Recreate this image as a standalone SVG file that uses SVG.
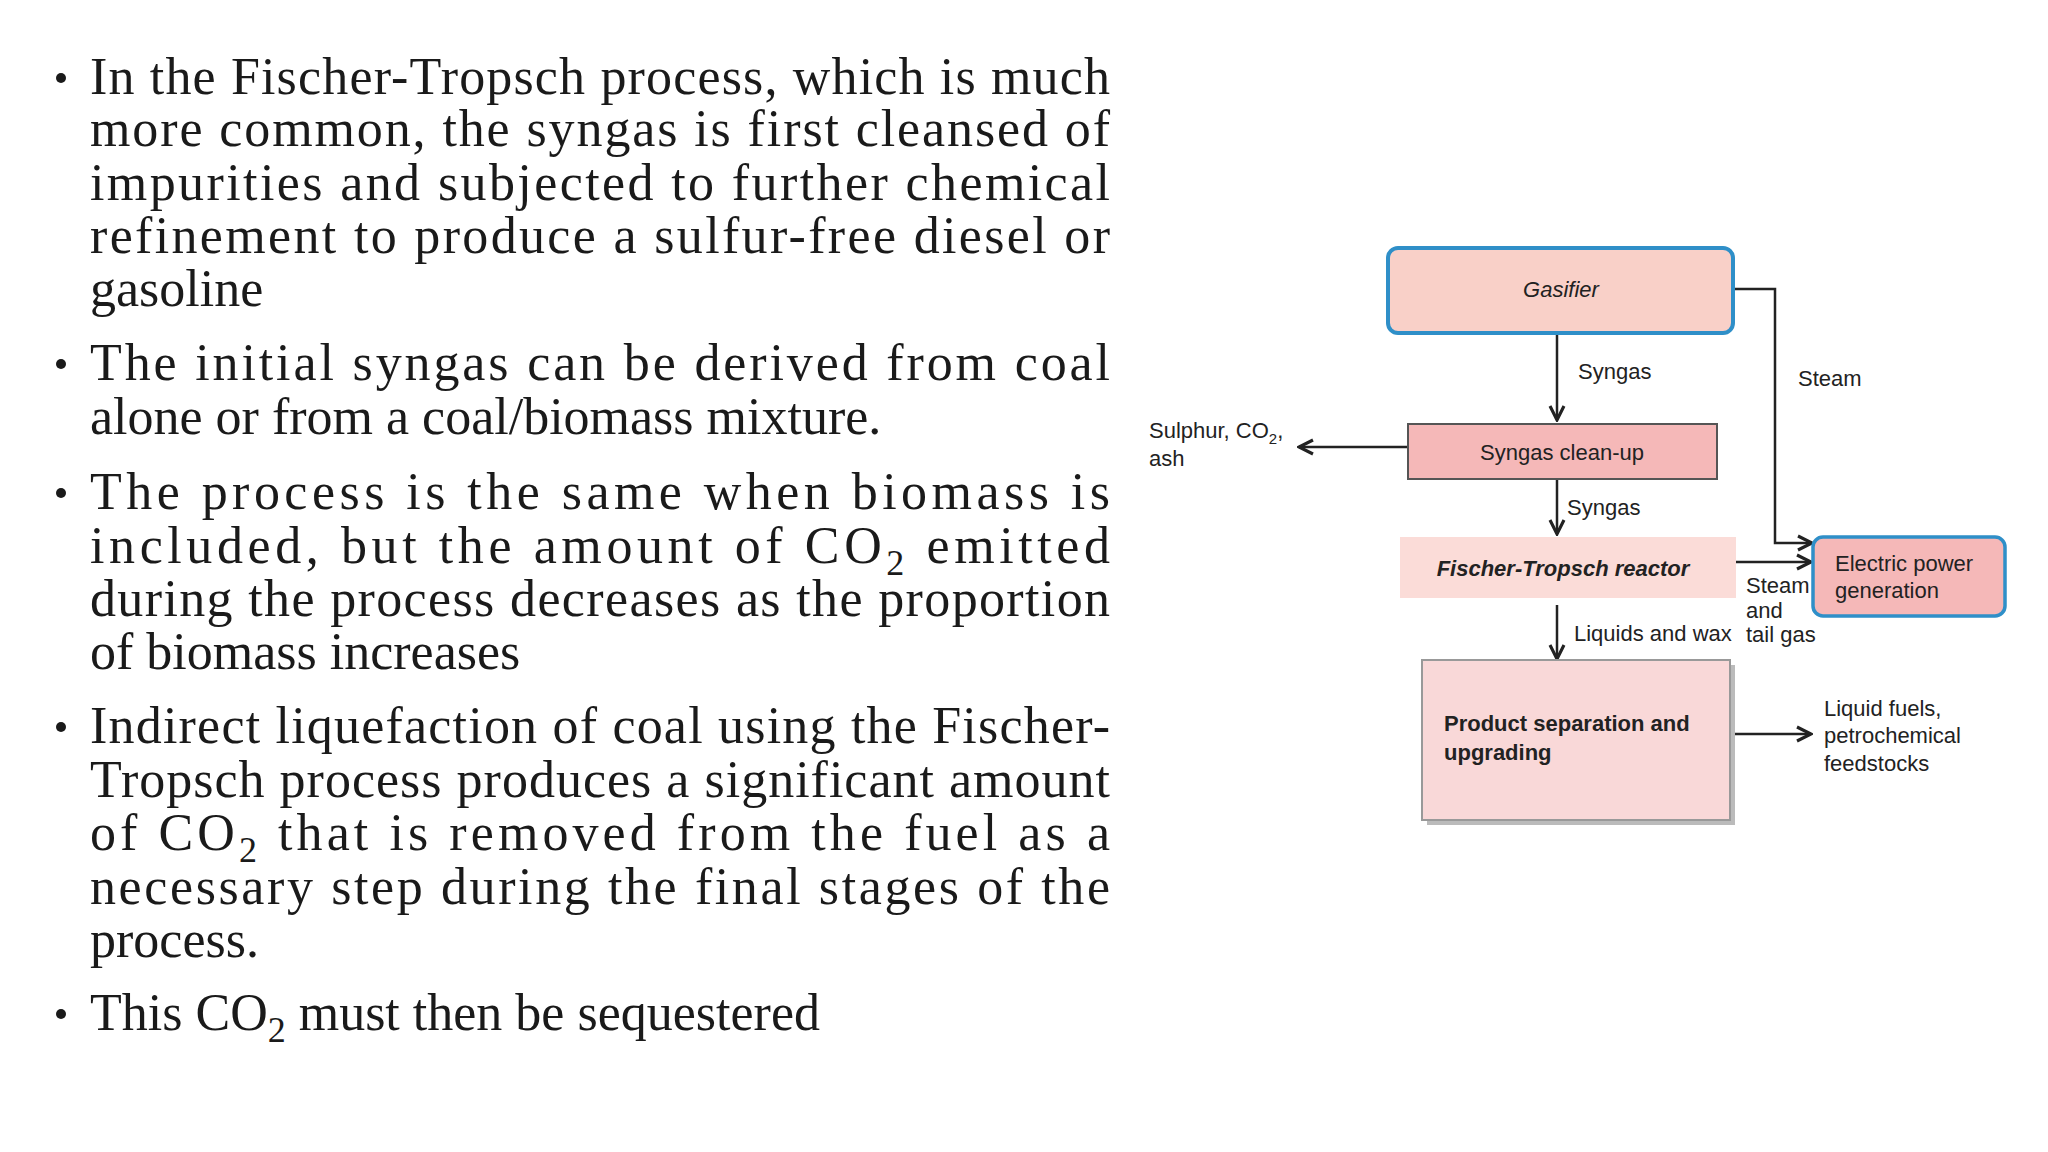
<svg xmlns="http://www.w3.org/2000/svg" width="2048" height="1152" viewBox="0 0 2048 1152">
<style>
.b{font-family:"Liberation Serif",serif;font-size:52px;fill:#1a1a1a}
.d{font-family:"Liberation Sans",Arial,sans-serif;font-size:22px;fill:#222}
.ln{stroke:#222;stroke-width:2.5;fill:none}
</style>
<defs>
<marker id="ah" viewBox="0 0 10 10" refX="9" refY="5" markerWidth="7" markerHeight="7" orient="auto"><path d="M1,1 L9,5 L1,9" fill="none" stroke="#222" stroke-width="1.8"/></marker>
</defs>
<rect width="2048" height="1152" fill="#fff"/>
<g id="text">
<circle cx="61" cy="78" r="5" fill="#1a1a1a"/>
<text class="b" x="90" y="94" textLength="1020" lengthAdjust="spacing">In the Fischer-Tropsch process, which is much</text>
<text class="b" x="90" y="146" textLength="1020" lengthAdjust="spacing">more common, the syngas is first cleansed of</text>
<text class="b" x="90" y="200" textLength="1020" lengthAdjust="spacing">impurities and subjected to further chemical</text>
<text class="b" x="90" y="253" textLength="1020" lengthAdjust="spacing">refinement to produce a sulfur-free diesel or</text>
<text class="b" x="90" y="306">gasoline</text>
<circle cx="61" cy="364" r="5" fill="#1a1a1a"/>
<text class="b" x="90" y="380" textLength="1020" lengthAdjust="spacing">The initial syngas can be derived from coal</text>
<text class="b" x="90" y="434">alone or from a coal/biomass mixture.</text>
<circle cx="61" cy="493" r="5" fill="#1a1a1a"/>
<text class="b" x="90" y="509" textLength="1020" lengthAdjust="spacing">The process is the same when biomass is</text>
<text class="b" x="90" y="563" textLength="1020" lengthAdjust="spacing">included, but the amount of CO<tspan dy="12" font-size="36">2</tspan><tspan dy="-12"> emitted</tspan></text>
<text class="b" x="90" y="616" textLength="1020" lengthAdjust="spacing">during the process decreases as the proportion</text>
<text class="b" x="90" y="669">of biomass increases</text>
<circle cx="61" cy="727" r="5" fill="#1a1a1a"/>
<text class="b" x="90" y="743" textLength="1020" lengthAdjust="spacing">Indirect liquefaction of coal using the Fischer-</text>
<text class="b" x="90" y="797" textLength="1020" lengthAdjust="spacing">Tropsch process produces a significant amount</text>
<text class="b" x="90" y="850" textLength="1020" lengthAdjust="spacing">of CO<tspan dy="12" font-size="36">2</tspan><tspan dy="-12"> that is removed from the fuel as a</tspan></text>
<text class="b" x="90" y="904" textLength="1020" lengthAdjust="spacing">necessary step during the final stages of the</text>
<text class="b" x="90" y="957">process.</text>
<circle cx="61" cy="1014" r="5" fill="#1a1a1a"/>
<text class="b" x="90" y="1030">This CO<tspan dy="12" font-size="36">2</tspan><tspan dy="-12"> must then be sequestered</tspan></text>
</g>
<g id="connectors">
<line class="ln" x1="1557" y1="333" x2="1557" y2="420" marker-end="url(#ah)"/>
<polyline class="ln" points="1733,289 1775,289 1775,543 1812,543" marker-end="url(#ah)"/>
<line class="ln" x1="1408" y1="447" x2="1299" y2="447" marker-end="url(#ah)"/>
<line class="ln" x1="1557" y1="479" x2="1557" y2="534" marker-end="url(#ah)"/>
<line class="ln" x1="1736" y1="562" x2="1811" y2="562" marker-end="url(#ah)"/>
<line class="ln" x1="1557" y1="605" x2="1557" y2="659" marker-end="url(#ah)"/>
<line class="ln" x1="1720" y1="734" x2="1811" y2="734" marker-end="url(#ah)"/>
<text class="d" x="1578" y="379">Syngas</text>
<text class="d" x="1798" y="386">Steam</text>
<text class="d" x="1149" y="438">Sulphur, CO<tspan dy="6" font-size="15">2</tspan><tspan dy="-6">,</tspan></text>
<text class="d" x="1149" y="466">ash</text>
<text class="d" x="1567" y="515">Syngas</text>
<text class="d" x="1746" y="593" font-size="19">Steam</text>
<text class="d" x="1746" y="618" font-size="19">and</text>
<text class="d" x="1746" y="642" font-size="19">tail gas</text>
<text class="d" x="1574" y="641" font-size="19">Liquids and wax</text>
<text class="d" x="1824" y="716">Liquid fuels,</text>
<text class="d" x="1824" y="743">petrochemical</text>
<text class="d" x="1824" y="771">feedstocks</text>
</g>
<g id="gasifier">
<rect x="1388" y="248" width="345" height="85" rx="10" fill="#f9d0c8" stroke="#2f8fc8" stroke-width="4"/>
<text class="d" x="1561" y="297" text-anchor="middle" font-style="italic">Gasifier</text>
</g>
<g id="cleanup">
<rect x="1408" y="424" width="309" height="55" fill="#f5b8b8" stroke="#555" stroke-width="2"/>
<text class="d" x="1562" y="460" text-anchor="middle">Syngas clean-up</text>
</g>
<g id="ftreactor">
<rect x="1400" y="537" width="336" height="61" fill="#fbdcd8"/>
<text class="d" x="1563" y="576" text-anchor="middle" font-style="italic" font-weight="bold" fill="#666">Fischer-Tropsch reactor</text>
</g>
<g id="power">
<rect x="1813" y="537" width="192" height="79" rx="10" fill="#f5b8b8" stroke="#2f8fc8" stroke-width="3.5"/>
<text class="d" x="1835" y="571">Electric power</text>
<text class="d" x="1835" y="598">generation</text>
</g>
<g id="product">
<rect x="1427" y="665" width="308" height="160" fill="#bbb"/>
<rect x="1422" y="660" width="308" height="160" fill="#f9d8d8" stroke="#999" stroke-width="2"/>
<text class="d" x="1444" y="731" font-weight="bold" font-size="21">Product separation and</text>
<text class="d" x="1444" y="760" font-weight="bold" font-size="21">upgrading</text>
</g>
</svg>
